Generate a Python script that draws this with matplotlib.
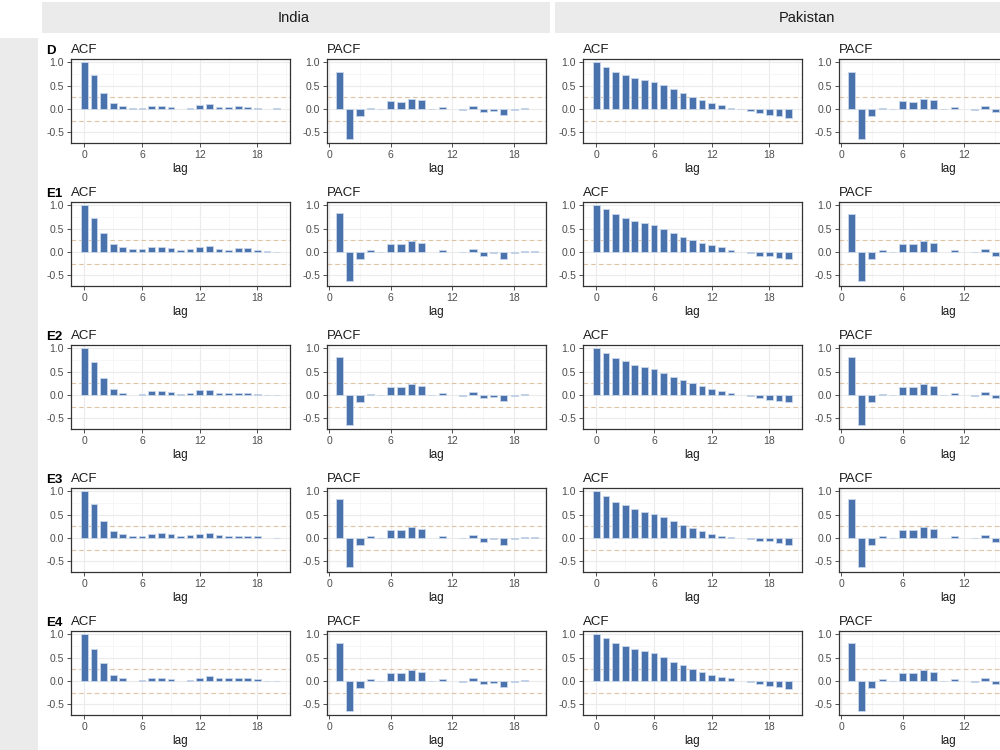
import numpy as np
import matplotlib
matplotlib.use("Agg")
import matplotlib.pyplot as plt
from matplotlib.patches import Rectangle
from matplotlib.ticker import MultipleLocator

plt.rcParams['font.family'] = ['Liberation Sans', 'DejaVu Sans']

countries = ["India", "Pakistan"]
row_labels = ["D", "E1", "E2", "E3", "E4"]
ci = 0.26  # approx 1.96/sqrt(n)

# ACF values, lags 0..20
india_acf_D = [1.0, 0.72, 0.35, 0.13, 0.065, 0.02, 0.03, 0.065, 0.065, 0.05, 0.0,
               0.01, 0.085, 0.10, 0.045, 0.045, 0.06, 0.045, 0.03, 0.0, 0.01]
india_acf_E1 = [1.0, 0.72, 0.41, 0.18, 0.115, 0.065, 0.065, 0.10, 0.115, 0.08, 0.035,
                0.065, 0.115, 0.13, 0.065, 0.05, 0.08, 0.08, 0.05, 0.01, 0.005]
india_acf_E2 = [1.0, 0.71, 0.36, 0.13, 0.05, 0.0, 0.03, 0.085, 0.085, 0.07, 0.015,
                0.05, 0.10, 0.10, 0.05, 0.04, 0.05, 0.04, 0.015, 0.005, 0.005]
india_acf_E3 = [1.0, 0.73, 0.37, 0.145, 0.08, 0.05, 0.035, 0.08, 0.11, 0.095, 0.05,
                0.065, 0.095, 0.11, 0.065, 0.05, 0.05, 0.05, 0.05, 0.0, 0.005]
india_acf_E4 = [1.0, 0.69, 0.385, 0.12, 0.055, 0.0, 0.015, 0.065, 0.065, 0.04, 0.0,
                0.015, 0.055, 0.10, 0.065, 0.065, 0.065, 0.065, 0.04, 0.005, 0.005]

pak_acf_D = [1.0, 0.905, 0.80, 0.73, 0.665, 0.615, 0.585, 0.51, 0.42, 0.34, 0.255,
             0.195, 0.13, 0.08, 0.03, -0.005, -0.04, -0.085, -0.13, -0.15, -0.19]
pak_acf_E1 = [1.0, 0.915, 0.81, 0.72, 0.67, 0.63, 0.58, 0.50, 0.41, 0.32, 0.25,
              0.19, 0.145, 0.10, 0.05, 0.0, -0.02, -0.08, -0.09, -0.12, -0.16]
pak_acf_E2 = [1.0, 0.905, 0.80, 0.72, 0.635, 0.59, 0.555, 0.48, 0.38, 0.31, 0.25,
              0.185, 0.12, 0.08, 0.035, 0.0, -0.025, -0.065, -0.10, -0.13, -0.16]
pak_acf_E3 = [1.0, 0.905, 0.775, 0.70, 0.615, 0.55, 0.52, 0.455, 0.355, 0.275, 0.21,
              0.145, 0.095, 0.05, 0.01, 0.0, -0.015, -0.055, -0.065, -0.11, -0.16]
pak_acf_E4 = [1.0, 0.92, 0.815, 0.745, 0.685, 0.635, 0.59, 0.505, 0.41, 0.345, 0.265,
              0.20, 0.13, 0.09, 0.055, 0.0, -0.02, -0.07, -0.105, -0.135, -0.165]

# PACF values, lags 1..20 (India) and lags 1..15 visible (Pakistan)
india_pacf_D = [0.80, -0.645, -0.16, 0.03, -0.01, 0.17, 0.15, 0.22, 0.19, -0.01,
                0.045, 0.0, -0.02, 0.06, -0.07, -0.04, -0.135, -0.02, 0.02, 0.0]
india_pacf_E1 = [0.83, -0.63, -0.16, 0.05, 0.005, 0.18, 0.16, 0.245, 0.195, 0.0,
                 0.05, 0.0, -0.005, 0.065, -0.08, -0.02, -0.145, -0.02, 0.03, 0.01]
india_pacf_E2 = [0.82, -0.645, -0.15, 0.03, 0.005, 0.165, 0.165, 0.23, 0.20, -0.005,
                 0.04, 0.0, -0.02, 0.065, -0.07, -0.04, -0.135, -0.02, 0.02, 0.0]
india_pacf_E3 = [0.83, -0.615, -0.16, 0.045, -0.005, 0.18, 0.16, 0.24, 0.195, 0.0,
                 0.045, 0.0, -0.005, 0.06, -0.08, -0.02, -0.145, -0.015, 0.025, 0.01]
india_pacf_E4 = [0.82, -0.635, -0.15, 0.035, 0.005, 0.175, 0.175, 0.24, 0.20, 0.005,
                 0.045, 0.0, -0.02, 0.07, -0.07, -0.04, -0.13, -0.02, 0.02, 0.0]

pak_pacf_D = [0.80, -0.645, -0.16, 0.03, -0.01, 0.17, 0.15, 0.22, 0.19, -0.01,
              0.045, 0.0, -0.02, 0.06, -0.07]
pak_pacf_E1 = [0.82, -0.62, -0.16, 0.05, 0.005, 0.18, 0.16, 0.245, 0.195, 0.0,
               0.05, 0.0, -0.005, 0.065, -0.08]
pak_pacf_E2 = [0.81, -0.645, -0.15, 0.03, 0.005, 0.165, 0.165, 0.23, 0.20, -0.005,
               0.04, 0.0, -0.02, 0.065, -0.07]
pak_pacf_E3 = [0.83, -0.615, -0.16, 0.045, -0.005, 0.18, 0.16, 0.24, 0.195, 0.0,
               0.045, 0.0, -0.005, 0.06, -0.08]
pak_pacf_E4 = [0.82, -0.635, -0.15, 0.035, 0.005, 0.175, 0.175, 0.24, 0.20, 0.005,
               0.045, 0.0, -0.02, 0.07, -0.07]

rows = [
    (india_acf_D, india_pacf_D, pak_acf_D, pak_pacf_D),
    (india_acf_E1, india_pacf_E1, pak_acf_E1, pak_pacf_E1),
    (india_acf_E2, india_pacf_E2, pak_acf_E2, pak_pacf_E2),
    (india_acf_E3, india_pacf_E3, pak_acf_E3, pak_pacf_E3),
    (india_acf_E4, india_pacf_E4, pak_acf_E4, pak_pacf_E4),
]

W, H = 1000, 750
fig = plt.figure(figsize=(10, 7.5), dpi=100)
fig.patch.set_facecolor('white')

strip_col = '#ebebeb'
# strips (pixel coords -> figure coords)
def px_rect(x0, y0, x1, y1):
    return Rectangle((x0 / W, 1 - y1 / H), (x1 - x0) / W, (y1 - y0) / H,
                     transform=fig.transFigure, facecolor=strip_col,
                     edgecolor='none', zorder=0)

fig.patches.append(px_rect(0, 38, 38, 750))
fig.patches.append(px_rect(42, 2, 550, 33))
fig.patches.append(px_rect(555, 2, 1000, 33))
fig.text(294 / W, 1 - 18 / H, "India", ha='center', va='center', fontsize=10.5, color='#1a1a1a')
fig.text(807 / W, 1 - 18 / H, "Pakistan", ha='center', va='center', fontsize=10.5, color='#1a1a1a')

col_left = [71, 327, 583, 839]
row_top = [59, 202, 345, 488, 631]
ax_w, ax_h = 219, 84

bar_col = '#4a72ad'
edge_col = '#c9d7ea'

for r, vals in enumerate(rows):
    for c in range(4):
        ax = fig.add_axes([col_left[c] / W, 1 - (row_top[r] + ax_h) / H, ax_w / W, ax_h / H])
        y = np.array(vals[c])
        is_acf = c % 2 == 0
        lags = np.arange(len(y)) + (0 if is_acf else 1)
        keep = y != 0
        ax.bar(lags[keep], y[keep], width=0.7, color=bar_col, edgecolor=edge_col,
               linewidth=0.6, zorder=3)
        for v in (ci, -ci):
            ax.axhline(v, color='#dfc4a2', linestyle=(0, (4, 3)), linewidth=0.8, zorder=2)
        ax.set_ylim(-0.73, 1.07)
        if is_acf:
            ax.set_xlim(-1.38, 21.38)
        else:
            ax.set_xlim(-0.2, 21.1)
        ax.xaxis.set_major_locator(MultipleLocator(6))
        ax.xaxis.set_minor_locator(MultipleLocator(3))
        ax.set_yticks([-0.5, 0.0, 0.5, 1.0])
        ax.set_yticklabels(['-0.5', '0.0', '0.5', '1.0'])
        ax.yaxis.set_minor_locator(MultipleLocator(0.25))
        ax.grid(which='major', color='#ebebeb', linewidth=0.8, zorder=0)
        ax.grid(which='minor', color='#f3f3f3', linewidth=0.5, zorder=0)
        ax.set_axisbelow(True)
        for s in ax.spines.values():
            s.set_color('#333333')
            s.set_linewidth(0.9)
        ax.tick_params(which='major', length=3, width=0.6, color='#333333',
                       labelsize=7.5, labelcolor='#4d4d4d', pad=2)
        ax.tick_params(which='minor', length=0)
        ax.set_xlabel('lag', fontsize=8.5, color='#1a1a1a', labelpad=2)
        ax.set_title('ACF' if is_acf else 'PACF', loc='left', fontsize=9.5,
                     color='#1a1a1a', pad=4)
    fig.text(46 / W, 1 - (row_top[r] - 5) / H, row_labels[r], fontsize=9.5,
             fontweight='bold', ha='left', va='baseline', color='black')

fig.savefig('out.png', dpi=100)
